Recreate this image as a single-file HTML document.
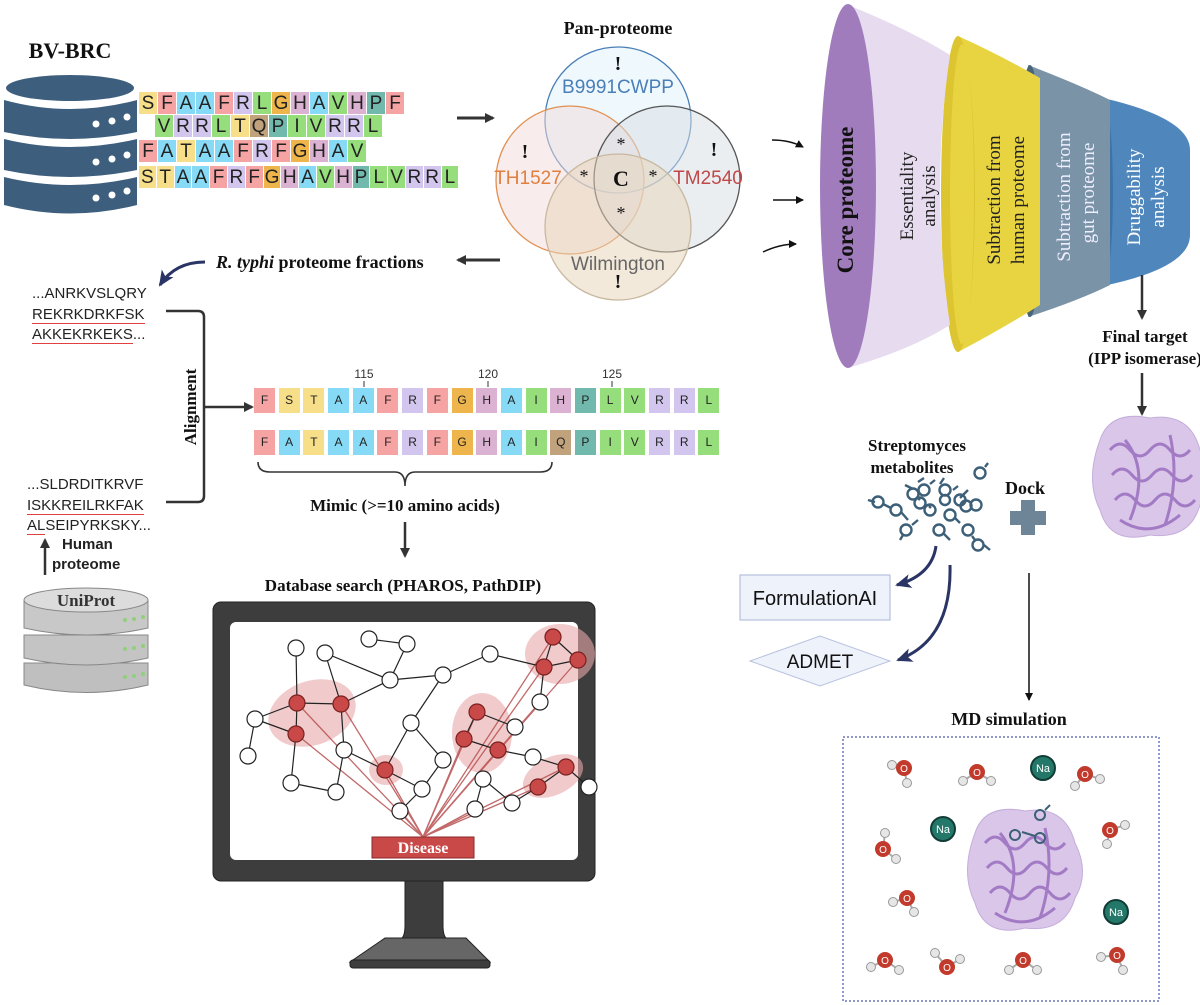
<!DOCTYPE html>
<html><head><meta charset="utf-8"><style>
body{margin:0;background:#fff;width:1200px;height:1005px;overflow:hidden;position:relative;font-family:"Liberation Sans",sans-serif}
.row{position:absolute;display:flex}
.row span{display:block;text-align:center;color:#222}
.F{background:#f6a3a3}.S,.T{background:#f7df8a}.A{background:#86daf5}.R{background:#d2c6ef}.G{background:#edb54b}.H{background:#dcb2d2}.I,.L,.V{background:#96de7c}.P{background:#72b9ad}.Q{background:#c0a27c}
.top span{width:18px;height:22px;margin-right:1px;font-size:19px;line-height:23px}
.al span{width:21px;height:25px;margin-right:3.7px;font-size:12px;line-height:25px}
.seq{position:absolute;font-size:15px;color:#222;line-height:20.5px}
.u{border-bottom:1.5px solid #e04040}
</style></head><body>
<svg width="1200" height="1005" style="position:absolute;left:0;top:0" font-family="Liberation Serif, serif">
<defs>
<marker id="ah" markerWidth="10" markerHeight="10" refX="8" refY="5" orient="auto" markerUnits="userSpaceOnUse"><path d="M0,0 L10,5 L0,10 Z" fill="#333"/></marker>
<marker id="ahs" markerWidth="8" markerHeight="8" refX="7" refY="4" orient="auto" markerUnits="userSpaceOnUse"><path d="M0,0 L8,4 L0,8 Z" fill="#111"/></marker>
<marker id="ahn" markerWidth="18" markerHeight="18" refX="14" refY="9" orient="auto" markerUnits="userSpaceOnUse"><path d="M0,2 L16,9 L0,16 L4,9 Z" fill="#2a3566"/></marker>
</defs>
<text x="70" y="58" font-size="22" font-weight="bold" text-anchor="middle" fill="#111">BV-BRC</text>
<g fill="#3d5f7d">
<ellipse cx="70" cy="88" rx="64" ry="13"/>
<path d="M4,100 Q70,118 137,100 L137,132 Q70,146 4,132 Z"/>
<path d="M4,139 Q70,155 137,139 L137,170 Q70,184 4,170 Z"/>
<path d="M4,177 Q70,193 137,177 L137,205 Q70,222 4,205 Z"/>
</g>
<g fill="#fff"><circle cx="96" cy="124" r="3.5"/><circle cx="112" cy="121" r="3.5"/><circle cx="127" cy="117" r="3.5"/>
<circle cx="96" cy="162" r="3.5"/><circle cx="112" cy="159" r="3.5"/><circle cx="127" cy="155" r="3.5"/>
<circle cx="96" cy="198" r="3.5"/><circle cx="112" cy="195" r="3.5"/><circle cx="127" cy="191" r="3.5"/></g>
<line x1="457" y1="118" x2="493" y2="118" stroke="#333" stroke-width="3" marker-end="url(#ah)"/>
<text x="618" y="34" font-size="18" font-weight="bold" text-anchor="middle" fill="#111">Pan-proteome</text>
<circle cx="618" cy="120" r="73" fill="#e3f4fb" fill-opacity=".6" stroke="#4a7fb8" stroke-width="1.3"/>
<circle cx="570" cy="180" r="74" fill="#f2d9d9" fill-opacity=".5" stroke="#e09050" stroke-width="1.3"/>
<circle cx="667" cy="179" r="73" fill="#d8dde3" fill-opacity=".5" stroke="#555" stroke-width="1.3"/>
<circle cx="618" cy="227" r="73" fill="#e8d4b8" fill-opacity=".5" stroke="#c8b8a0" stroke-width="1.3"/>
<g font-family="Liberation Sans, sans-serif" font-size="19" text-anchor="middle">
<text x="618" y="93" fill="#4a7fb8">B9991CWPP</text>
<text x="528" y="184" fill="#e08040">TH1527</text>
<text x="708" y="184" fill="#c04848">TM2540</text>
<text x="618" y="270" fill="#666">Wilmington</text></g>
<g font-size="20" font-weight="bold" text-anchor="middle" fill="#111">
<text x="618" y="70">!</text><text x="525" y="158">!</text><text x="714" y="156">!</text><text x="618" y="288">!</text>
<text x="621" y="186" font-size="22">C</text></g>
<g font-size="18" text-anchor="middle" fill="#111"><text x="621" y="150">*</text><text x="584" y="182">*</text><text x="653" y="182">*</text><text x="621" y="219">*</text></g>
<line x1="500" y1="260" x2="458" y2="260" stroke="#333" stroke-width="3" marker-end="url(#ah)"/>
<text x="216" y="268" font-size="18" font-weight="bold" fill="#111"><tspan font-style="italic">R. typhi</tspan> proteome fractions</text>
<path d="M205,262 Q175,262 160,285" fill="none" stroke="#2a3566" stroke-width="3" marker-end="url(#ahn)"/>
<path d="M166,311 L198,311 Q204,311 204,317 L204,496 Q204,502 198,502 L166,502" fill="none" stroke="#333" stroke-width="2.5"/>
<line x1="204" y1="407" x2="252" y2="407" stroke="#333" stroke-width="2.5" marker-end="url(#ah)"/>
<text transform="translate(196,407) rotate(-90)" font-size="17" font-weight="bold" text-anchor="middle" fill="#111">Alignment</text>
<line x1="45" y1="575" x2="45" y2="540" stroke="#333" stroke-width="2.5" marker-end="url(#ah)"/>
<text x="62" y="549" font-family="Liberation Sans, sans-serif" font-size="15" font-weight="bold" fill="#222">Human</text>
<text x="52" y="569" font-family="Liberation Sans, sans-serif" font-size="15" font-weight="bold" fill="#222">proteome</text>
<g stroke="#888" stroke-width="1">
<path d="M24,663 L24,685 Q86,700 148,685 L148,663 Z" fill="#bfbfbf"/>
<path d="M24,635 L24,658 Q86,672 148,658 L148,635 Z" fill="#c4c4c4"/>
<path d="M24,600 L24,628 Q86,642 148,628 L148,600 Z" fill="#c8c8c8"/>
<ellipse cx="86" cy="600" rx="62" ry="12" fill="#dcdcdc"/></g>
<text x="86" y="606" font-size="17" font-weight="bold" text-anchor="middle" fill="#333">UniProt</text>
<g fill="#8fd07a"><circle cx="125" cy="620" r="2"/><circle cx="134" cy="619" r="2"/><circle cx="143" cy="617" r="2"/><circle cx="125" cy="649" r="2"/><circle cx="134" cy="648" r="2"/><circle cx="143" cy="646" r="2"/><circle cx="125" cy="677" r="2"/><circle cx="134" cy="676" r="2"/><circle cx="143" cy="674" r="2"/></g>
<g font-family="Liberation Sans, sans-serif" font-size="12" text-anchor="middle" fill="#333"><text x="364" y="378">115</text><text x="488" y="378">120</text><text x="612" y="378">125</text></g>
<g stroke="#333" stroke-width="1"><line x1="364" y1="381" x2="364" y2="387"/><line x1="488" y1="381" x2="488" y2="387"/><line x1="612" y1="381" x2="612" y2="387"/></g>
<path d="M258,462 Q258,472 270,472 L395,472 Q405,472 405,486 Q405,472 415,472 L540,472 Q552,472 552,462" fill="none" stroke="#333" stroke-width="1.6"/>
<text x="405" y="511" font-size="17" font-weight="bold" text-anchor="middle" fill="#111">Mimic (&gt;=10 amino acids)</text>
<line x1="405" y1="522" x2="405" y2="556" stroke="#333" stroke-width="2.5" marker-end="url(#ah)"/>
<text x="403" y="591" font-size="17" font-weight="bold" text-anchor="middle" fill="#111">Database search (PHAROS, PathDIP)</text>
<rect x="213" y="602" width="382" height="279" rx="8" fill="#3d3d3d" stroke="#222"/>
<rect x="230" y="622" width="348" height="238" rx="6" fill="#fff"/>
<path d="M405,881 L443,881 L443,925 Q443,935 446,938 L402,938 Q405,935 405,925 Z" fill="#3d3d3d" stroke="#222"/>
<path d="M385,938 L466,938 L490,962 L350,962 Z" fill="#666" stroke="#222"/>
<rect x="350" y="960" width="140" height="8" rx="3" fill="#3d3d3d" stroke="#222"/>
<g fill="#e8a8a8" fill-opacity=".6">
<ellipse cx="312" cy="713" rx="45" ry="32" transform="rotate(-20 312 713)"/>
<ellipse cx="386" cy="770" rx="17" ry="15"/>
<ellipse cx="482" cy="733" rx="30" ry="40"/>
<ellipse cx="560" cy="654" rx="35" ry="30"/>
<ellipse cx="553" cy="776" rx="32" ry="19" transform="rotate(-25 553 776)"/></g>
<g stroke="#b85050" stroke-width="1.3" opacity=".85">
<line x1="423" y1="837" x2="297" y2="703"/><line x1="423" y1="837" x2="341" y2="704"/><line x1="423" y1="837" x2="296" y2="734"/><line x1="423" y1="837" x2="385" y2="770"/><line x1="423" y1="837" x2="400" y2="811"/><line x1="423" y1="837" x2="477" y2="712"/><line x1="423" y1="837" x2="464" y2="739"/><line x1="423" y1="837" x2="498" y2="750"/><line x1="423" y1="837" x2="553" y2="637"/><line x1="423" y1="837" x2="544" y2="667"/><line x1="423" y1="837" x2="578" y2="660"/><line x1="423" y1="837" x2="566" y2="767"/><line x1="423" y1="837" x2="538" y2="787"/><line x1="423" y1="837" x2="540" y2="702"/><line x1="423" y1="837" x2="475" y2="809"/></g>
<g stroke="#222" stroke-width="1.2">
<line x1="296" y1="648" x2="297" y2="703"/><line x1="297" y1="703" x2="341" y2="704"/><line x1="297" y1="703" x2="255" y2="719"/><line x1="255" y1="719" x2="248" y2="756"/><line x1="297" y1="703" x2="296" y2="734"/><line x1="296" y1="734" x2="255" y2="719"/><line x1="296" y1="734" x2="291" y2="783"/><line x1="291" y1="783" x2="336" y2="792"/><line x1="336" y1="792" x2="344" y2="750"/><line x1="344" y1="750" x2="341" y2="704"/><line x1="325" y1="653" x2="341" y2="704"/><line x1="325" y1="653" x2="390" y2="680"/><line x1="369" y1="639" x2="407" y2="644"/><line x1="407" y1="644" x2="390" y2="680"/><line x1="390" y1="680" x2="443" y2="675"/><line x1="341" y1="704" x2="390" y2="680"/><line x1="443" y1="675" x2="490" y2="654"/><line x1="490" y1="654" x2="544" y2="667"/><line x1="553" y1="637" x2="544" y2="667"/><line x1="553" y1="637" x2="578" y2="660"/><line x1="544" y1="667" x2="578" y2="660"/><line x1="544" y1="667" x2="540" y2="702"/><line x1="443" y1="675" x2="411" y2="723"/><line x1="411" y1="723" x2="385" y2="770"/><line x1="411" y1="723" x2="443" y2="760"/><line x1="344" y1="750" x2="385" y2="770"/><line x1="385" y1="770" x2="422" y2="789"/><line x1="443" y1="760" x2="422" y2="789"/><line x1="422" y1="789" x2="400" y2="811"/><line x1="477" y1="712" x2="464" y2="739"/><line x1="464" y1="739" x2="498" y2="750"/><line x1="477" y1="712" x2="515" y2="727"/><line x1="498" y1="750" x2="533" y2="757"/><line x1="533" y1="757" x2="566" y2="767"/><line x1="566" y1="767" x2="538" y2="787"/><line x1="566" y1="767" x2="589" y2="787"/><line x1="483" y1="779" x2="512" y2="803"/><line x1="483" y1="779" x2="475" y2="809"/><line x1="512" y1="803" x2="538" y2="787"/></g>
<g fill="#fff" stroke="#222" stroke-width="1.2">
<circle cx="296" cy="648" r="8"/><circle cx="369" cy="639" r="8"/><circle cx="407" cy="644" r="8"/><circle cx="325" cy="653" r="8"/><circle cx="390" cy="680" r="8"/><circle cx="443" cy="675" r="8"/><circle cx="490" cy="654" r="8"/><circle cx="255" cy="719" r="8"/><circle cx="248" cy="756" r="8"/><circle cx="411" cy="723" r="8"/><circle cx="344" cy="750" r="8"/><circle cx="443" cy="760" r="8"/><circle cx="291" cy="783" r="8"/><circle cx="336" cy="792" r="8"/><circle cx="422" cy="789" r="8"/><circle cx="400" cy="811" r="8"/><circle cx="540" cy="702" r="8"/><circle cx="515" cy="727" r="8"/><circle cx="533" cy="757" r="8"/><circle cx="483" cy="779" r="8"/><circle cx="512" cy="803" r="8"/><circle cx="475" cy="809" r="8"/><circle cx="589" cy="787" r="8"/></g>
<g fill="#c94848" stroke="#7a2020" stroke-width="1.2">
<circle cx="297" cy="703" r="8"/><circle cx="341" cy="704" r="8"/><circle cx="296" cy="734" r="8"/><circle cx="385" cy="770" r="8"/><circle cx="477" cy="712" r="8"/><circle cx="464" cy="739" r="8"/><circle cx="498" cy="750" r="8"/><circle cx="553" cy="637" r="8"/><circle cx="544" cy="667" r="8"/><circle cx="578" cy="660" r="8"/><circle cx="566" cy="767" r="8"/><circle cx="538" cy="787" r="8"/></g>
<rect x="372" y="837" width="102" height="21" fill="#c94848" stroke="#8a2a2a"/>
<text x="423" y="853" font-size="16" font-weight="bold" text-anchor="middle" fill="#fff">Disease</text>
<path d="M1103,98 Q1190,118 1190,150 L1190,235 Q1190,268 1103,286 Z" fill="#4f86bb"/>
<ellipse cx="1103" cy="192" rx="10" ry="94" fill="#3f73a6"/>
<path d="M1028,65 Q1080,85 1110,100 L1110,285 Q1080,300 1028,317 Z" fill="#7a93a7"/>
<ellipse cx="1030" cy="191" rx="12" ry="126" fill="#4a6478"/>
<ellipse cx="1036" cy="191" rx="8" ry="120" fill="#7a93a7"/>
<path d="M958,36 Q1000,55 1040,78 L1040,305 Q1000,330 958,352 Z" fill="#e8d440"/>
<ellipse cx="958" cy="194" rx="17" ry="158" fill="#dcc530"/>
<ellipse cx="962" cy="194" rx="12" ry="150" fill="#e8d440"/>
<path d="M848,5 Q910,30 950,55 Q930,190 950,325 Q910,350 848,368 Z" fill="#e7dcef"/>
<ellipse cx="848" cy="186" rx="28" ry="182" fill="#a17cbd"/>
<text transform="translate(853,200) rotate(-90)" font-size="23" font-weight="bold" text-anchor="middle" fill="#111">Core proteome</text>
<text transform="translate(913,196) rotate(-90)" font-size="19" text-anchor="middle" fill="#222">Essentiality</text>
<text transform="translate(935,196) rotate(-90)" font-size="19" text-anchor="middle" fill="#222">analysis</text>
<text transform="translate(1000,200) rotate(-90)" font-size="19" text-anchor="middle" fill="#222">Subtraction from</text>
<text transform="translate(1024,200) rotate(-90)" font-size="19" text-anchor="middle" fill="#222">human proteome</text>
<text transform="translate(1070,197) rotate(-90)" font-size="19" text-anchor="middle" fill="#eef">Subtraction from</text>
<text transform="translate(1094,193) rotate(-90)" font-size="19" text-anchor="middle" fill="#eef">gut proteome</text>
<text transform="translate(1140,197) rotate(-90)" font-size="19" text-anchor="middle" fill="#fff">Druggability</text>
<text transform="translate(1164,197) rotate(-90)" font-size="19" text-anchor="middle" fill="#fff">analysis</text>
<path d="M772,140 Q790,140 803,147" fill="none" stroke="#111" stroke-width="1.5" marker-end="url(#ahs)"/>
<line x1="773" y1="200" x2="803" y2="200" stroke="#111" stroke-width="1.5" marker-end="url(#ahs)"/>
<path d="M763,252 Q780,244 796,244" fill="none" stroke="#111" stroke-width="1.5" marker-end="url(#ahs)"/>
<line x1="1142" y1="275" x2="1142" y2="318" stroke="#333" stroke-width="2.5" marker-end="url(#ah)"/>
<text x="1145" y="342" font-size="17" font-weight="bold" text-anchor="middle" fill="#111">Final target</text>
<text x="1145" y="364" font-size="17" font-weight="bold" text-anchor="middle" fill="#111">(IPP isomerase)</text>
<line x1="1142" y1="373" x2="1142" y2="414" stroke="#333" stroke-width="2.5" marker-end="url(#ah)"/>
<g id="prot">
<path d="M1100,440 Q1110,410 1150,418 Q1190,412 1200,450 Q1215,480 1200,505 Q1190,540 1150,535 Q1110,545 1100,510 Q1085,480 1100,440 Z" fill="#d9c6e8" stroke="#c4aedb"/>
<g fill="none" stroke="#9a6fc0" stroke-width="3" opacity=".85">
<path d="M1110,450 q10,-12 20,0 t20,0 t20,0 t20,0"/><path d="M1112,475 q10,-12 20,0 t20,0 t20,0 t20,0"/><path d="M1115,500 q10,-12 20,0 t20,0 t20,0 t20,0"/><path d="M1125,440 Q1150,470 1130,520 M1170,435 Q1180,480 1165,525 M1120,520 Q1150,540 1180,515"/></g></g>
<text x="917" y="451" font-size="17" font-weight="bold" text-anchor="middle" fill="#111">Streptomyces</text>
<text x="912" y="473" font-size="17" font-weight="bold" text-anchor="middle" fill="#111">metabolites</text>
<g fill="none" stroke="#3d6078" stroke-width="2.4">
<circle cx="878" cy="502" r="5.5"/><circle cx="896" cy="510" r="5.5"/><circle cx="913" cy="494" r="5.5"/><circle cx="920" cy="503" r="5.5"/><circle cx="930" cy="510" r="5.5"/><circle cx="945" cy="490" r="5.5"/><circle cx="950" cy="515" r="5.5"/><circle cx="966" cy="506" r="5.5"/><circle cx="976" cy="505" r="5.5"/><circle cx="980" cy="473" r="5.5"/><circle cx="906" cy="530" r="5.5"/><circle cx="939" cy="530" r="5.5"/><circle cx="968" cy="530" r="5.5"/><circle cx="978" cy="545" r="5.5"/><circle cx="924" cy="490" r="5.5"/><circle cx="960" cy="500" r="5.5"/><circle cx="945" cy="500" r="5"/>
<path d="M868,500 L875,502 M883,504 L891,508 M901,512 L908,520 M905,485 L913,489 M918,498 L920,500 M929,506 L931,508 M940,484 L944,478 M955,518 L960,523 M960,498 L968,490 M985,467 L988,463 M900,540 L903,535 M912,525 L918,520 M944,534 L950,540 M972,536 L975,540 M984,545 L990,550 M918,482 L924,478 M930,484 L935,480 M953,490 L958,486"/></g>
<text x="1025" y="494" font-size="18" font-weight="bold" text-anchor="middle" fill="#111">Dock</text>
<rect x="1021" y="500" width="14" height="35" fill="#6e8597"/><rect x="1010" y="511" width="36" height="14" fill="#6e8597"/>
<path d="M936,546 Q932,575 897,585" fill="none" stroke="#2a3566" stroke-width="3" marker-end="url(#ahn)"/>
<path d="M950,565 Q952,640 898,660" fill="none" stroke="#2a3566" stroke-width="3" marker-end="url(#ahn)"/>
<rect x="740" y="575" width="150" height="45" fill="#eef2fb" stroke="#aab5d8"/>
<text x="815" y="605" font-family="Liberation Sans, sans-serif" font-size="20" text-anchor="middle" fill="#111">FormulationAI</text>
<path d="M750,661 L820,636 L890,661 L820,686 Z" fill="#eef2fb" stroke="#b8c2de"/>
<text x="820" y="668" font-family="Liberation Sans, sans-serif" font-size="19" text-anchor="middle" fill="#111">ADMET</text>
<line x1="1029" y1="573" x2="1029" y2="700" stroke="#111" stroke-width="1.5" marker-end="url(#ahs)"/>
<text x="1009" y="725" font-size="18" font-weight="bold" text-anchor="middle" fill="#111">MD simulation</text>
<rect x="843" y="737" width="316" height="264" fill="#fff" stroke="#9098cc" stroke-width="2" stroke-dasharray="2,2"/>
<g transform="translate(-125,393)"><use href="#prot"/></g>
<g fill="none" stroke="#3d6078" stroke-width="2"><circle cx="1040" cy="815" r="5"/><circle cx="1015" cy="835" r="5"/><circle cx="1040" cy="838" r="5"/><path d="M1045,810 L1050,805 M1022,832 L1035,836"/></g>
<g fill="#24786a" stroke="#123d36" stroke-width="2"><circle cx="1043" cy="768" r="12"/><circle cx="943" cy="829" r="12"/><circle cx="1116" cy="912" r="12"/></g>
<g font-family="Liberation Sans, sans-serif" font-size="11" fill="#fff" text-anchor="middle"><text x="1043" y="772">Na</text><text x="943" y="833">Na</text><text x="1116" y="916">Na</text></g>
<g font-family="Liberation Sans, sans-serif" text-anchor="middle">
<g transform="translate(904,768)"><line x1="0" y1="0" x2="-12" y2="-3" stroke="#aaa" stroke-width="2"/><line x1="0" y1="0" x2="3" y2="15" stroke="#aaa" stroke-width="2"/><circle cx="-12" cy="-3" r="4.5" fill="#e6e6e6" stroke="#999"/><circle cx="3" cy="15" r="4.5" fill="#e6e6e6" stroke="#999"/><circle r="8" fill="#c23a2c"/><text y="4" font-size="10" fill="#fff">O</text></g>
<g transform="translate(977,772)"><line x1="0" y1="0" x2="-14" y2="9" stroke="#aaa" stroke-width="2"/><line x1="0" y1="0" x2="14" y2="9" stroke="#aaa" stroke-width="2"/><circle cx="-14" cy="9" r="4.5" fill="#e6e6e6" stroke="#999"/><circle cx="14" cy="9" r="4.5" fill="#e6e6e6" stroke="#999"/><circle r="8" fill="#c23a2c"/><text y="4" font-size="10" fill="#fff">O</text></g>
<g transform="translate(1085,774)"><line x1="0" y1="0" x2="-10" y2="12" stroke="#aaa" stroke-width="2"/><line x1="0" y1="0" x2="15" y2="5" stroke="#aaa" stroke-width="2"/><circle cx="-10" cy="12" r="4.5" fill="#e6e6e6" stroke="#999"/><circle cx="15" cy="5" r="4.5" fill="#e6e6e6" stroke="#999"/><circle r="8" fill="#c23a2c"/><text y="4" font-size="10" fill="#fff">O</text></g>
<g transform="translate(1110,830)"><line x1="0" y1="0" x2="15" y2="-5" stroke="#aaa" stroke-width="2"/><line x1="0" y1="0" x2="-3" y2="14" stroke="#aaa" stroke-width="2"/><circle cx="15" cy="-5" r="4.5" fill="#e6e6e6" stroke="#999"/><circle cx="-3" cy="14" r="4.5" fill="#e6e6e6" stroke="#999"/><circle r="8" fill="#c23a2c"/><text y="4" font-size="10" fill="#fff">O</text></g>
<g transform="translate(883,849)"><line x1="0" y1="0" x2="2" y2="-16" stroke="#aaa" stroke-width="2"/><line x1="0" y1="0" x2="13" y2="10" stroke="#aaa" stroke-width="2"/><circle cx="2" cy="-16" r="4.5" fill="#e6e6e6" stroke="#999"/><circle cx="13" cy="10" r="4.5" fill="#e6e6e6" stroke="#999"/><circle r="8" fill="#c23a2c"/><text y="4" font-size="10" fill="#fff">O</text></g>
<g transform="translate(907,898)"><line x1="0" y1="0" x2="-14" y2="4" stroke="#aaa" stroke-width="2"/><line x1="0" y1="0" x2="7" y2="14" stroke="#aaa" stroke-width="2"/><circle cx="-14" cy="4" r="4.5" fill="#e6e6e6" stroke="#999"/><circle cx="7" cy="14" r="4.5" fill="#e6e6e6" stroke="#999"/><circle r="8" fill="#c23a2c"/><text y="4" font-size="10" fill="#fff">O</text></g>
<g transform="translate(885,960)"><line x1="0" y1="0" x2="-14" y2="7" stroke="#aaa" stroke-width="2"/><line x1="0" y1="0" x2="14" y2="10" stroke="#aaa" stroke-width="2"/><circle cx="-14" cy="7" r="4.5" fill="#e6e6e6" stroke="#999"/><circle cx="14" cy="10" r="4.5" fill="#e6e6e6" stroke="#999"/><circle r="8" fill="#c23a2c"/><text y="4" font-size="10" fill="#fff">O</text></g>
<g transform="translate(947,967)"><line x1="0" y1="0" x2="-12" y2="-14" stroke="#aaa" stroke-width="2"/><line x1="0" y1="0" x2="13" y2="-8" stroke="#aaa" stroke-width="2"/><circle cx="-12" cy="-14" r="4.5" fill="#e6e6e6" stroke="#999"/><circle cx="13" cy="-8" r="4.5" fill="#e6e6e6" stroke="#999"/><circle r="8" fill="#c23a2c"/><text y="4" font-size="10" fill="#fff">O</text></g>
<g transform="translate(1023,960)"><line x1="0" y1="0" x2="-14" y2="10" stroke="#aaa" stroke-width="2"/><line x1="0" y1="0" x2="14" y2="10" stroke="#aaa" stroke-width="2"/><circle cx="-14" cy="10" r="4.5" fill="#e6e6e6" stroke="#999"/><circle cx="14" cy="10" r="4.5" fill="#e6e6e6" stroke="#999"/><circle r="8" fill="#c23a2c"/><text y="4" font-size="10" fill="#fff">O</text></g>
<g transform="translate(1117,955)"><line x1="0" y1="0" x2="-16" y2="2" stroke="#aaa" stroke-width="2"/><line x1="0" y1="0" x2="6" y2="15" stroke="#aaa" stroke-width="2"/><circle cx="-16" cy="2" r="4.5" fill="#e6e6e6" stroke="#999"/><circle cx="6" cy="15" r="4.5" fill="#e6e6e6" stroke="#999"/><circle r="8" fill="#c23a2c"/><text y="4" font-size="10" fill="#fff">O</text></g>
</g>
</svg>
<div class="row top" style="left:139px;top:92px"><span class="S">S</span><span class="F">F</span><span class="A">A</span><span class="A">A</span><span class="F">F</span><span class="R">R</span><span class="L">L</span><span class="G">G</span><span class="H">H</span><span class="A">A</span><span class="V">V</span><span class="H">H</span><span class="P">P</span><span class="F">F</span></div>
<div class="row top" style="left:155px;top:115px"><span class="V">V</span><span class="R">R</span><span class="R">R</span><span class="L">L</span><span class="T">T</span><span class="Q">Q</span><span class="P">P</span><span class="I">I</span><span class="V">V</span><span class="R">R</span><span class="R">R</span><span class="L">L</span></div>
<div class="row top" style="left:139px;top:140px"><span class="F">F</span><span class="A">A</span><span class="T">T</span><span class="A">A</span><span class="A">A</span><span class="F">F</span><span class="R">R</span><span class="F">F</span><span class="G">G</span><span class="H">H</span><span class="A">A</span><span class="V">V</span></div>
<div class="row top" style="left:139px;top:166px"><span class="S" style="width:16.8px">S</span><span class="T" style="width:16.8px">T</span><span class="A" style="width:16.8px">A</span><span class="A" style="width:16.8px">A</span><span class="F" style="width:16.8px">F</span><span class="R" style="width:16.8px">R</span><span class="F" style="width:16.8px">F</span><span class="G" style="width:16.8px">G</span><span class="H" style="width:16.8px">H</span><span class="A" style="width:16.8px">A</span><span class="V" style="width:16.8px">V</span><span class="H" style="width:16.8px">H</span><span class="P" style="width:16.8px">P</span><span class="L" style="width:16.8px">L</span><span class="V" style="width:16.8px">V</span><span class="R" style="width:16.8px">R</span><span class="R" style="width:16.8px">R</span><span class="L" style="width:16.8px">L</span></div>
<div class="row al" style="left:254px;top:388px"><span class="F">F</span><span class="S">S</span><span class="T">T</span><span class="A">A</span><span class="A">A</span><span class="F">F</span><span class="R">R</span><span class="F">F</span><span class="G">G</span><span class="H">H</span><span class="A">A</span><span class="I">I</span><span class="H">H</span><span class="P">P</span><span class="L">L</span><span class="V">V</span><span class="R">R</span><span class="R">R</span><span class="L">L</span></div>
<div class="row al" style="left:254px;top:430px"><span class="F">F</span><span class="A">A</span><span class="T">T</span><span class="A">A</span><span class="A">A</span><span class="F">F</span><span class="R">R</span><span class="F">F</span><span class="G">G</span><span class="H">H</span><span class="A">A</span><span class="I">I</span><span class="Q">Q</span><span class="P">P</span><span class="I">I</span><span class="V">V</span><span class="R">R</span><span class="R">R</span><span class="L">L</span></div>
<div class="seq" style="left:32px;top:284px">...ANRKVSLQRY<br><span class="u">REKRKDRKFSK</span><br><span class="u">AKKEKRKEKS</span>...</div>
<div class="seq" style="left:27px;top:475px">...SLDRDITKRVF<br><span class="u">ISKKREILRKFAK</span><br><span class="u">AL</span>SEIPYRKSKY...</div>
</body></html>
